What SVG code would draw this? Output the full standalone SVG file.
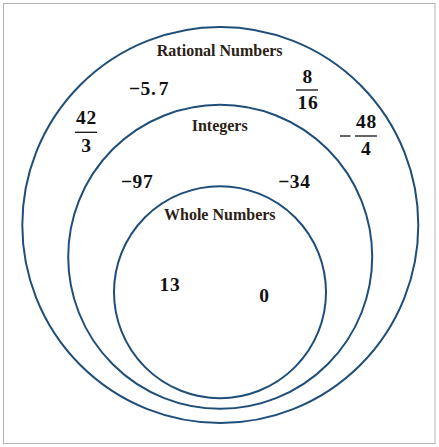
<svg xmlns="http://www.w3.org/2000/svg" width="439" height="447" viewBox="0 0 439 447">
<style>
.ring{fill:none;stroke:#1F4E79;stroke-width:2}
.lbl{font-family:"Liberation Serif","Times New Roman",serif;font-weight:bold;font-size:16px;fill:#2b2116;text-anchor:middle}
.num{font-family:"Liberation Serif","Times New Roman",serif;font-weight:bold;font-size:19.5px;fill:#111;text-anchor:middle;letter-spacing:0.8px}
.st{text-anchor:start}
.bar{stroke:#111;stroke-width:1.3}
</style>
<rect x="0" y="0" width="439" height="447" fill="#fff"/>
<rect x="3.5" y="3.5" width="431.5" height="440" fill="none" stroke="#b4b4b4" stroke-width="1"/>
<g id="rational">
<circle class="ring" cx="220.3" cy="225" r="198"/>
<text class="lbl" x="219.7" y="55.5">Rational Numbers</text>
<text class="num st" x="129" y="94.5">−<tspan dx="-0.5">5.</tspan><tspan dx="2">7</tspan></text>
<text class="num" x="86.5" y="124">42</text>
<line class="bar" x1="75" y1="132.3" x2="97" y2="132.3"/>
<text class="num" x="86.5" y="151.5">3</text>
<text class="num" x="307.8" y="82.5">8</text>
<line class="bar" x1="296" y1="90" x2="318" y2="90"/>
<text class="num" x="308" y="109">16</text>
<line class="bar" x1="340" y1="136" x2="350.5" y2="136"/>
<text class="num" x="366.5" y="128.3">48</text>
<line class="bar" x1="355" y1="136" x2="377" y2="136"/>
<text class="num" x="366.3" y="155">4</text>
</g>
<g id="integers">
<circle class="ring" cx="220.2" cy="256.8" r="152"/>
<text class="lbl" x="219.7" y="131">Integers</text>
<text class="num st" x="121" y="188.3">−<tspan dx="-0.5">97</tspan></text>
<text class="num st" x="278.3" y="187.7">−<tspan dx="-0.5">34</tspan></text>
</g>
<g id="whole">
<circle class="ring" cx="220" cy="292.2" r="106"/>
<text class="lbl" x="219.8" y="220">Whole Numbers</text>
<text class="num" x="170" y="291">13</text>
<text class="num" x="264.6" y="301.7">0</text>
</g>
<g id="connectors"/>
</svg>
